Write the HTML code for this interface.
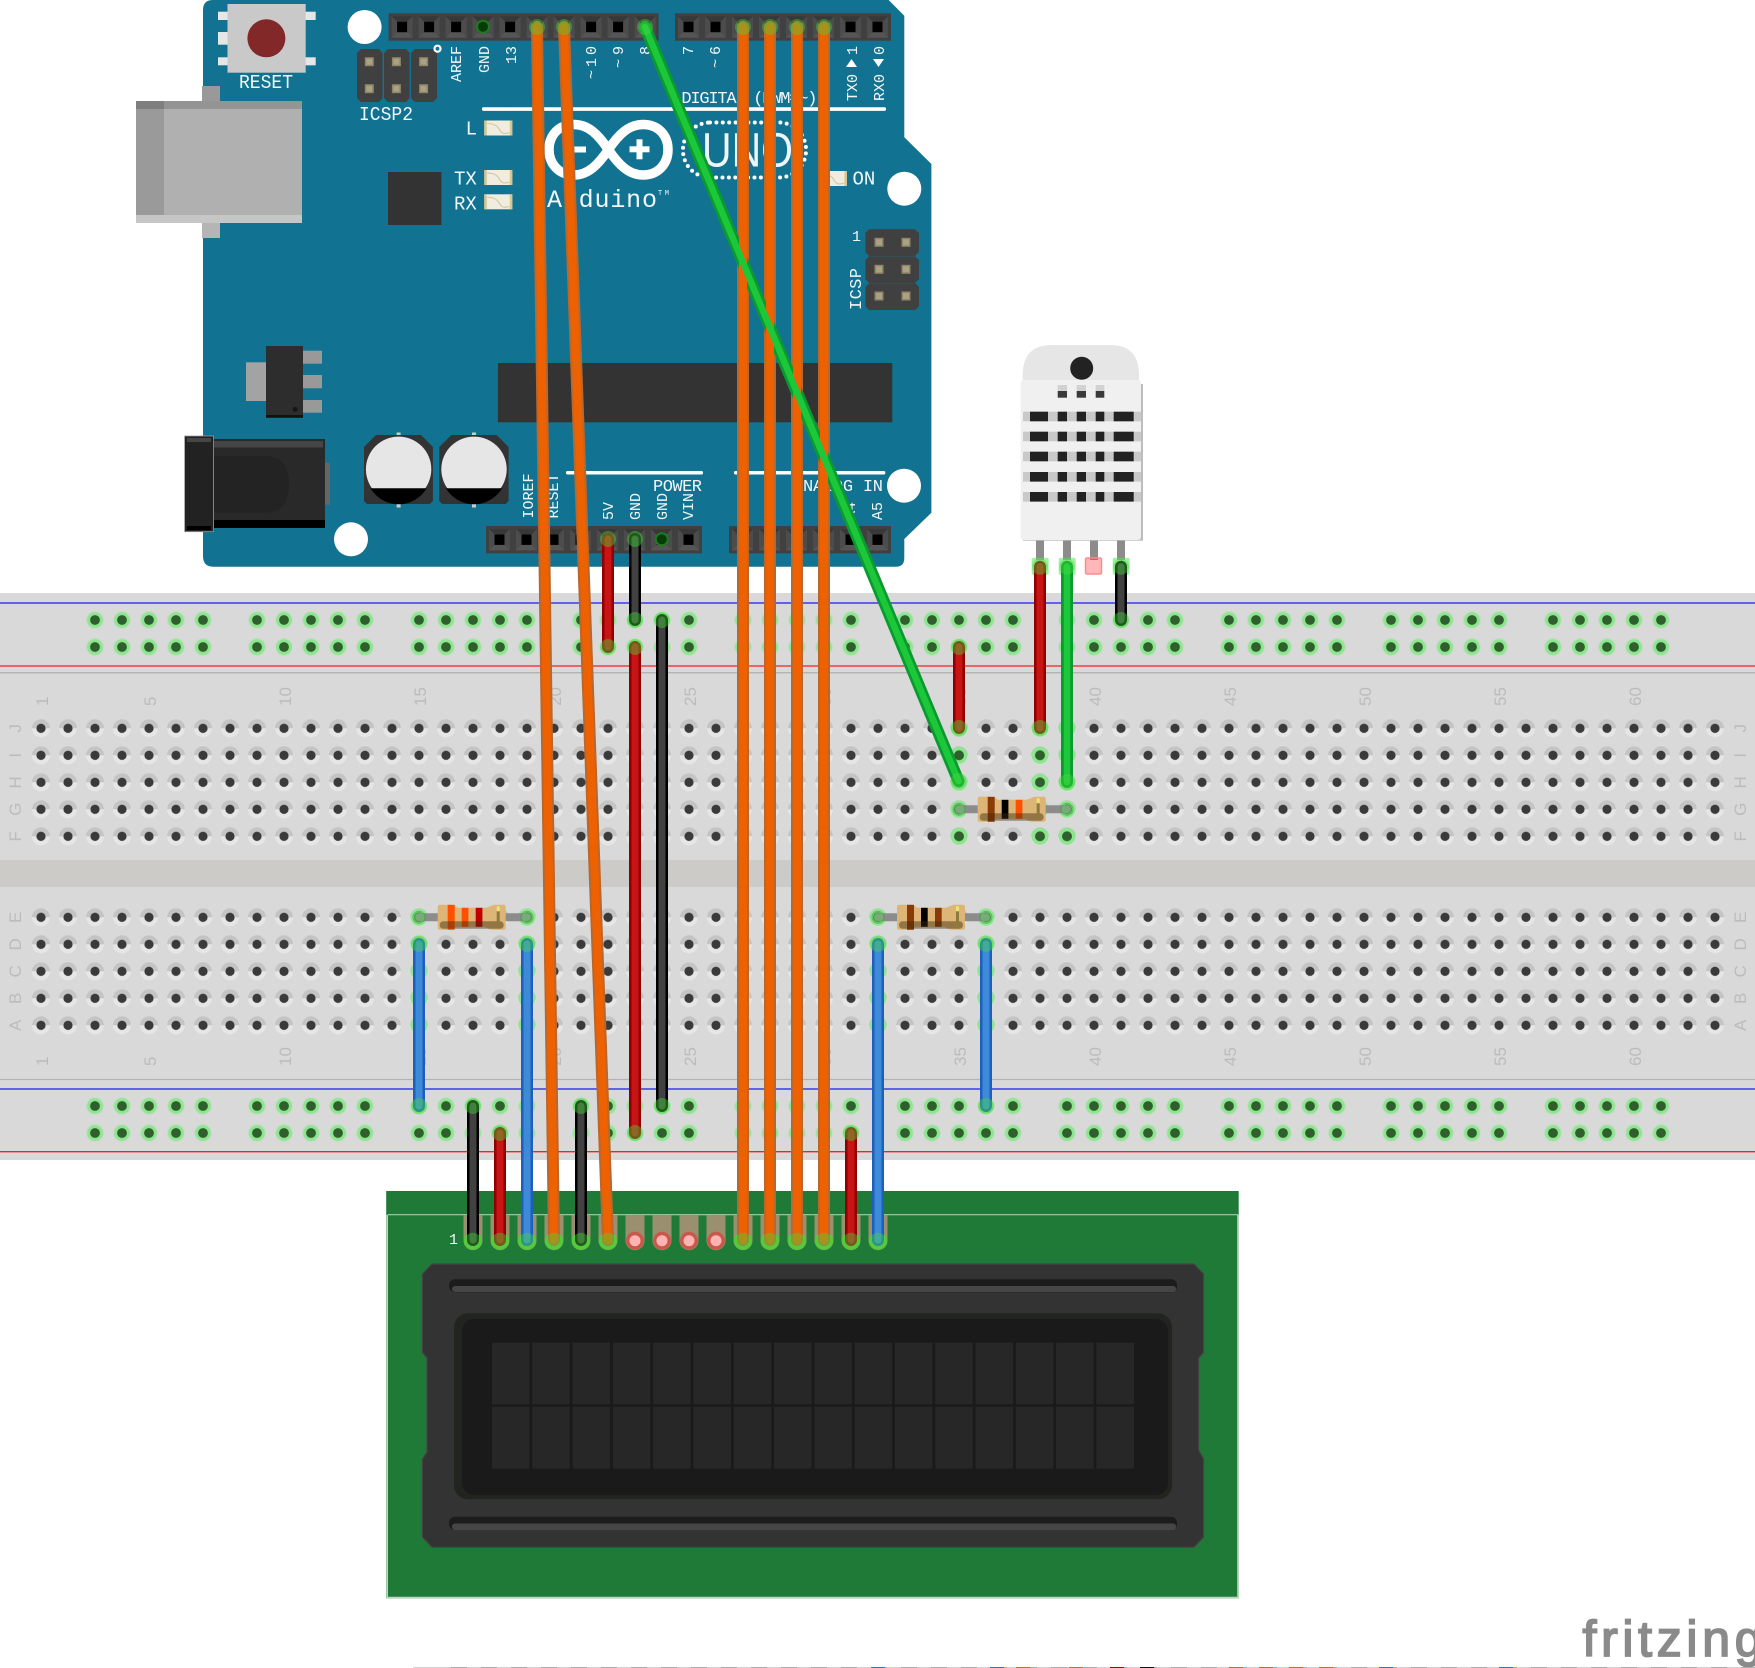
<!DOCTYPE html>
<html>
<head>
<meta charset="utf-8">
<title>Fritzing diagram</title>
<style>
html,body{margin:0;padding:0;background:#fff}
svg{display:block}
.m{font-family:"Liberation Mono",monospace;fill:#f2f7f9}
.s{font-size:15px}
.l{font-size:17px}
.b{font-size:19px}
.g{font-family:"Liberation Sans",sans-serif;font-size:17px;fill:#bcbcbc}
</style>
</head>
<body>
<svg xmlns="http://www.w3.org/2000/svg" width="1755" height="1668" viewBox="0 0 1755 1668">
<defs>
<pattern id="h" patternUnits="userSpaceOnUse" x="27.5" y="714.8" width="27" height="27">
<path d="M4.5 13.5A9 9 0 0 1 22.5 13.5Z" fill="#c4c4c4"/><path d="M4.5 13.5A9 9 0 0 0 22.5 13.5Z" fill="#e6e6e6"/><circle cx="13.5" cy="13.5" r="4.6" fill="#3a3a3a"/>
</pattern>
<pattern id="gp" patternUnits="userSpaceOnUse" x="27.5" y="714.8" width="27" height="27">
<circle cx="13.5" cy="13.5" r="8.6" fill="#8de68f"/><circle cx="13.5" cy="13.5" r="5" fill="#2f5f2c"/>
</pattern>
<pattern id="r" patternUnits="userSpaceOnUse" x="81.5" y="606.5" width="27" height="27">
<circle cx="13.5" cy="13.5" r="9" fill="#c4dcc4"/><circle cx="13.5" cy="13.5" r="7.8" fill="#8de68f"/><circle cx="13.5" cy="13.5" r="4.9" fill="#2f5f2c"/>
</pattern>
<pattern id="hd" patternUnits="userSpaceOnUse" x="0" y="0" width="27" height="27.4">
<rect width="27" height="27.4" fill="#404040"/>
<rect x="3" y="3" width="21" height="21.4" fill="#4c4c4c"/>
<polygon points="3,3 24,3 18.5,8.5 8.5,8.5" fill="#383838"/>
<polygon points="3,24.4 24,24.4 18.5,18.9 8.5,18.9" fill="#555"/>
<rect x="8.5" y="8.5" width="10" height="10.4" fill="#000"/>
</pattern>
<g id="pin"><rect x="-4.5" y="-4.5" width="9" height="9" fill="#8f8668"/><rect x="-3" y="-3" width="6" height="6" fill="#aaa282"/></g>
<g id="led"><rect width="28" height="15" fill="#f0ecdf"/><rect width="2.5" height="15" fill="#d5c78f"/><rect x="25.5" width="2.5" height="15" fill="#d5c78f"/><path d="M3 3Q12 3 15 9T25 12" stroke="#cfc59c" fill="none"/></g>
<g id="res">
<path d="M-32-12.5H-22Q-16-12.5-14-9.5H14Q16-9.5 22-12.5H32Q34-12.5 34-10V10Q34 12.5 32 12.5H22Q16 12.5 14 9.5H-14Q-16 9.5-22 12.5H-32Q-34 12.5-34 10V-10Q-34-12.5-32-12.5Z" fill="#dcb577"/>
</g>
<g id="resTop">
<rect x="-32" y="4" width="64" height="7.5" rx="3.5" fill="#3c2a0a" opacity=".45"/>
<rect x="25" y="-11" width="3" height="5" fill="#eee27a"/><rect x="25" y="-6" width="3" height="17" fill="#8d7a3c"/>
</g>
<path id="pad" d="M-9.5 1215V1240.7A9.5 9.5 0 0 0 9.5 1240.7V1215Z" fill="#9a9070"/>
</defs>

<!-- Arduino -->
<path d="M213 0H888.6L904.3 15.7V137.3L931.4 164V512.7L904.3 539V558Q904.3 566.7 896 566.7H213Q203 566.7 203 556V10Q203 0 213 0Z" fill="#117391"/>
<!-- USB -->
<rect x="202" y="86" width="18" height="15" fill="#999"/>
<rect x="202" y="222" width="18" height="16" fill="#b5b5b5"/>
<rect x="136" y="101" width="166" height="122" fill="#b0b0b0"/>
<rect x="136" y="101" width="28" height="122" fill="#9a9a9a"/>
<rect x="136" y="101" width="166" height="8" fill="#949494"/>
<rect x="136" y="101" width="28" height="8" fill="#7f7f7f"/>
<rect x="136" y="215" width="166" height="8" fill="#c6c6c6"/>
<!-- reset -->
<g fill="#e6e6e6"><rect x="218" y="11.7" width="10" height="8.3"/><rect x="218" y="32" width="10" height="12.7"/><rect x="218" y="57.3" width="10" height="8"/><rect x="305" y="11.7" width="10.7" height="8.3"/><rect x="305" y="57.3" width="10.7" height="8"/></g>
<rect x="227.5" y="4" width="78.2" height="68.7" fill="#c9c9c9"/>
<circle cx="266.4" cy="38.3" r="19" fill="#822828"/>
<text class="m b" x="266" y="88" text-anchor="middle" textLength="54" lengthAdjust="spacingAndGlyphs">RESET</text>
<circle cx="364.6" cy="27" r="17" fill="#fff"/>
<circle cx="904.3" cy="188.7" r="17" fill="#fff"/>
<circle cx="351" cy="539.3" r="17" fill="#fff"/>
<circle cx="904" cy="485.7" r="17" fill="#fff"/>
<!-- headers -->
<rect transform="translate(388.6 13.3)" width="270" height="27.4" fill="url(#hd)"/>
<rect transform="translate(675 13.3)" width="216" height="27.4" fill="url(#hd)"/>
<rect transform="translate(486 526)" width="216" height="27.4" fill="url(#hd)"/>
<rect transform="translate(729 526)" width="162" height="27.4" fill="url(#hd)"/>
<circle cx="483" cy="26.7" r="7" fill="#1f7a22"/><circle cx="483" cy="26.7" r="5" fill="#063d06"/>
<circle cx="661.8" cy="539.3" r="7" fill="#1f7a22"/><circle cx="661.8" cy="539.3" r="5" fill="#063d06"/>
<!-- ICSP2 -->
<g fill="#404040">
<path d="M361 49H379L382.6 53V98L379 102H361L357 98V53Z"/><path d="M388 49H406L409.6 53V98L406 102H388L384 98V53Z"/><path d="M415 49H433L437 53V98L433 102H415L411 98V53Z"/>
</g>
<use href="#pin" x="369.3" y="61.7"/><use href="#pin" x="396.4" y="61.7"/><use href="#pin" x="423.6" y="61.7"/>
<use href="#pin" x="369.3" y="88.7"/><use href="#pin" x="396.4" y="88.7"/><use href="#pin" x="423.6" y="88.7"/>
<circle cx="437.5" cy="48.7" r="3" fill="none" stroke="#fff" stroke-width="2.2"/>
<text class="m b" x="359" y="120" textLength="54" lengthAdjust="spacingAndGlyphs">ICSP2</text>
<!-- top rotated labels -->
<g class="m s" text-anchor="end">
<text transform="translate(461 46) rotate(-90)">AREF</text>
<text transform="translate(489 46) rotate(-90)">GND</text>
<text transform="translate(516 46) rotate(-90)">13</text>
<text transform="translate(543 46) rotate(-90)">12</text>
<text transform="translate(570 46) rotate(-90)" textLength="33">~11</text>
<text transform="translate(596 46) rotate(-90)" textLength="33">~10</text>
<text transform="translate(623 46) rotate(-90)" textLength="22">~9</text>
<text transform="translate(650 46) rotate(-90)">8</text>
<text transform="translate(693 46) rotate(-90)">7</text>
<text transform="translate(720 46) rotate(-90)" textLength="22">~6</text>
<text transform="translate(747 46) rotate(-90)" textLength="22">~5</text>
<text transform="translate(774 46) rotate(-90)">4</text>
<text transform="translate(801 46) rotate(-90)" textLength="22">~3</text>
<text transform="translate(828 46) rotate(-90)">2</text>
<text transform="translate(857 46) rotate(-90)">1</text>
<text transform="translate(884 46) rotate(-90)">0</text>
</g>
<g class="m s">
<text transform="translate(857 101) rotate(-90)">TX0</text>
<text transform="translate(884 101) rotate(-90)">RX0</text>
</g>
<polygon points="851.5,59 857,67 846,67" fill="#fff"/>
<polygon points="878.5,67 884,59 873,59" fill="#fff"/>
<rect x="482" y="107.3" width="404" height="3.6" rx="1.5" fill="#fff"/>
<text class="m l" x="681.4" y="103" textLength="136">DIGITAL (PWM=~)</text>
<!-- LEDs -->
<use href="#led" x="484.3" y="120.5"/><use href="#led" x="484.3" y="170"/><use href="#led" x="484.3" y="194.3"/><use href="#led" x="819" y="171"/>
<text class="m b" x="477" y="134.5" text-anchor="end">L</text>
<text class="m b" x="454" y="184.5">TX</text>
<text class="m b" x="454" y="209.5">RX</text>
<text class="m b" x="852.5" y="184.5">ON</text>
<rect x="388" y="172" width="53.4" height="53" fill="#333"/>
<!-- logo -->
<path d="M608.4 149.6C598 134 588 124.5 574 124.5C558 124.5 549 136 549 149.6C549 163 558 175 574 175C588 175 598 165 608.4 149.6C618.8 134 629 124.5 643 124.5C659 124.5 668 136 668 149.6C668 163 659 175 643 175C629 175 618.8 165 608.4 149.6Z" fill="none" stroke="#fff" stroke-width="9.5"/>
<rect x="573.6" y="146.5" width="12.4" height="6" fill="#fff"/>
<rect x="629.5" y="146.3" width="20" height="6" fill="#fff"/><rect x="636.5" y="139.3" width="6" height="20" fill="#fff"/>
<text class="m" x="547" y="207" font-size="25" textLength="110">Arduino</text>
<text class="m" x="658" y="195" font-size="7" textLength="11">TM</text>
<rect x="683" y="122.5" width="123" height="55" rx="27" fill="none" stroke="#fff" stroke-width="4" stroke-linecap="round" stroke-dasharray="0 6.4"/>
<text x="702" y="166.5" font-family="Liberation Sans,sans-serif" font-size="48" fill="#eef5f7" textLength="91" lengthAdjust="spacingAndGlyphs">UNO</text>
<!-- ICSP -->
<g fill="#404040">
<path d="M869 229.3H915L919 233V252L915 256H869L865.4 252V233Z"/>
<path d="M869 256.3H915L919 260V279L915 283H869L865.4 279V260Z"/>
<path d="M869 283.3H915L919 287V306L915 310H869L865.4 306V287Z"/>
</g>
<use href="#pin" x="879" y="242.3"/><use href="#pin" x="906" y="242.3"/><use href="#pin" x="879" y="269.3"/><use href="#pin" x="906" y="269.3"/><use href="#pin" x="879" y="296"/><use href="#pin" x="906" y="296"/>
<text class="m s" x="852" y="241">1</text>
<text class="m l" transform="translate(861 310) rotate(-90)" textLength="42">ICSP</text>
<!-- regulator -->
<rect x="246" y="362.3" width="20" height="38.7" fill="#a3a3a3"/>
<g fill="#999"><rect x="302" y="350.7" width="20" height="13"/><rect x="302" y="375" width="20" height="13.3"/><rect x="302" y="400" width="20" height="12.7"/></g>
<rect x="266" y="346" width="37" height="71.7" fill="#2d2d2d"/><rect x="266" y="415" width="37" height="2.7" fill="#111"/>
<circle cx="295" cy="409.3" r="2.6" fill="#161616"/>
<rect x="497.9" y="363" width="394.4" height="59.3" fill="#333"/>
<!-- jack -->
<rect x="325" y="462.7" width="5" height="42" fill="#666"/>
<rect x="213" y="439" width="112" height="89" fill="#292929"/>
<rect x="213" y="441" width="110" height="6.5" fill="#454545"/>
<rect x="213" y="520" width="112" height="8" fill="#000"/>
<path d="M213 456H265Q289 456 289 484Q289 512.7 265 512.7H213Z" fill="#232323"/>
<rect x="184.6" y="436" width="29" height="95.7" fill="#222" stroke="#9a9a9a" stroke-width=".8"/>
<rect x="187" y="438" width="24" height="4" fill="#464646"/><rect x="187" y="526" width="24" height="4" fill="#000"/>
<!-- caps -->
<g id="cap1">
<rect x="396.6" y="432.5" width="4" height="75" fill="#ccc"/>
<path d="M376 435H421L432.9 447V501L430 504H367L364 501V447Z" fill="#333"/>
<circle cx="398.6" cy="469.3" r="32.7" fill="#e6e6e6"/>
<path d="M370.5 488.3H426.7A32.7 32.7 0 0 1 370.5 488.3Z" fill="#000"/>
</g>
<rect x="472" y="432.5" width="4" height="75" fill="#ccc"/>
<path d="M451.4 435H496.7L508.6 447V501L505.6 504H442.3L439.3 501V447Z" fill="#333"/>
<circle cx="474" cy="469.3" r="32.7" fill="#e6e6e6"/>
<path d="M445.9 488.3H502.1A32.7 32.7 0 0 1 445.9 488.3Z" fill="#000"/>
<!-- bottom labels -->
<rect x="566" y="471" width="137" height="3.5" rx="1.5" fill="#fff"/>
<rect x="734" y="471" width="151.3" height="3.5" rx="1.5" fill="#fff"/>
<text class="m l" x="653" y="491" textLength="49">POWER</text>
<text class="m l" x="793" y="491" textLength="90">ANALOG IN</text>
<g class="m s">
<text transform="translate(533 518.5) rotate(-90)">IOREF</text>
<text transform="translate(558 518.5) rotate(-90)">RESET</text>
<text transform="translate(613 520) rotate(-90)">5V</text>
<text transform="translate(640 520) rotate(-90)">GND</text>
<text transform="translate(667 520) rotate(-90)">GND</text>
<text transform="translate(693 520) rotate(-90)">VIN</text>
<text transform="translate(855 520) rotate(-90)">A4</text>
<text transform="translate(882 520) rotate(-90)">A5</text>
</g>

<!-- DHT -->
<g fill="#8c8c8c"><rect x="1036" y="540" width="8" height="20"/><rect x="1063" y="540" width="8" height="20"/><rect x="1090" y="540" width="8" height="20"/><rect x="1117" y="540" width="8" height="20"/></g>
<rect x="1023" y="384" width="120" height="156.7" fill="#bdbdbd"/>
<path d="M1022.7 382V375Q1022.7 345 1052 345H1110Q1139 345 1139 375V382Z" fill="#e6e6e6"/>
<circle cx="1081.7" cy="368.3" r="11.5" fill="#222"/>
<rect x="1020.7" y="380" width="120.3" height="160" rx="3" fill="#f0f0f0"/>
<g fill="#c9c9c9">
<rect x="1023" y="411.7" width="118" height="9.6"/><rect x="1023" y="431.7" width="118" height="9.6"/><rect x="1023" y="451.7" width="118" height="9.6"/><rect x="1023" y="472" width="118" height="9.6"/><rect x="1023" y="492" width="118" height="9.6"/>
</g>
<g fill="#222">
<rect x="1030" y="411.7" width="18" height="9.6"/><rect x="1057.7" y="411.7" width="9.3" height="9.6"/><rect x="1076.7" y="411.7" width="9.3" height="9.6"/><rect x="1095.7" y="411.7" width="8.6" height="9.6"/><rect x="1113.7" y="411.7" width="20" height="9.6"/>
<rect x="1030" y="431.7" width="18" height="9.6"/><rect x="1057.7" y="431.7" width="9.3" height="9.6"/><rect x="1076.7" y="431.7" width="9.3" height="9.6"/><rect x="1095.7" y="431.7" width="8.6" height="9.6"/><rect x="1113.7" y="431.7" width="20" height="9.6"/>
<rect x="1030" y="451.7" width="18" height="9.6"/><rect x="1057.7" y="451.7" width="9.3" height="9.6"/><rect x="1076.7" y="451.7" width="9.3" height="9.6"/><rect x="1095.7" y="451.7" width="8.6" height="9.6"/><rect x="1113.7" y="451.7" width="20" height="9.6"/>
<rect x="1030" y="472" width="18" height="9.6"/><rect x="1057.7" y="472" width="9.3" height="9.6"/><rect x="1076.7" y="472" width="9.3" height="9.6"/><rect x="1095.7" y="472" width="8.6" height="9.6"/><rect x="1113.7" y="472" width="20" height="9.6"/>
<rect x="1030" y="492" width="18" height="9.6"/><rect x="1057.7" y="492" width="9.3" height="9.6"/><rect x="1076.7" y="492" width="9.3" height="9.6"/><rect x="1095.7" y="492" width="8.6" height="9.6"/><rect x="1113.7" y="492" width="20" height="9.6"/>
</g>
<g fill="#d2d2d2"><rect x="1057.7" y="385" width="9.3" height="6"/><rect x="1076.7" y="385" width="9.3" height="6"/><rect x="1095.7" y="385" width="8.6" height="6"/></g>
<g fill="#3a3a3a"><rect x="1057.7" y="391" width="9.3" height="6.7"/><rect x="1076.7" y="391" width="9.3" height="6.7"/><rect x="1095.7" y="391" width="8.6" height="6.7"/></g>
<g fill="#57e557" opacity=".55"><rect x="1031.7" y="557.7" width="17" height="17" rx="2"/><rect x="1058.7" y="557.7" width="17" height="17" rx="2"/><rect x="1112.7" y="557.7" width="17" height="17" rx="2"/></g>
<rect x="1085.5" y="558" width="16" height="16" rx="1.5" fill="#ff3030" fill-opacity=".35" stroke="#ff8a8a" stroke-width="1.5"/>

<!-- Breadboard -->
<rect x="0" y="593" width="1755" height="567" fill="#d9d9d9"/>
<rect x="0" y="860" width="1755" height="27" fill="#cdcbc8"/>
<g fill="none" stroke-width="1.3">
<path d="M0 603H1755" stroke="#1c1cf0"/><path d="M0 666H1755" stroke="#f52020"/><path d="M0 672.7H1755" stroke="#b3b3b3"/>
<path d="M0 1079.5H1755" stroke="#b3b3b3"/><path d="M0 1089H1755" stroke="#1c1cf0"/><path d="M0 1151.7H1755" stroke="#f52020"/>
</g>
<rect x="27.5" y="714.8" width="1701" height="135" fill="url(#h)"/>
<rect x="27.5" y="903.8" width="1701" height="135" fill="url(#h)"/>
<g fill="url(#gp)">
<rect x="945.5" y="714.8" width="27" height="135"/><rect x="1026.5" y="714.8" width="27" height="135"/><rect x="1053.5" y="714.8" width="27" height="135"/>
<rect x="405.5" y="903.8" width="27" height="135"/><rect x="513.5" y="903.8" width="27" height="135"/><rect x="864.5" y="903.8" width="27" height="135"/><rect x="972.5" y="903.8" width="27" height="135"/>
</g>
<g fill="url(#r)">
<rect x="81.5" y="606.5" width="135" height="54"/><rect x="243.5" y="606.5" width="135" height="54"/><rect x="405.5" y="606.5" width="135" height="54"/><rect x="567.5" y="606.5" width="135" height="54"/><rect x="729.5" y="606.5" width="135" height="54"/><rect x="891.5" y="606.5" width="135" height="54"/><rect x="1053.5" y="606.5" width="135" height="54"/><rect x="1215.5" y="606.5" width="135" height="54"/><rect x="1377.5" y="606.5" width="135" height="54"/><rect x="1539.5" y="606.5" width="135" height="54"/>
<rect x="81.5" y="1092.5" width="135" height="54"/><rect x="243.5" y="1092.5" width="135" height="54"/><rect x="405.5" y="1092.5" width="135" height="54"/><rect x="567.5" y="1092.5" width="135" height="54"/><rect x="729.5" y="1092.5" width="135" height="54"/><rect x="891.5" y="1092.5" width="135" height="54"/><rect x="1053.5" y="1092.5" width="135" height="54"/><rect x="1215.5" y="1092.5" width="135" height="54"/><rect x="1377.5" y="1092.5" width="135" height="54"/><rect x="1539.5" y="1092.5" width="135" height="54"/>
</g>
<!-- breadboard labels -->
<g class="g">
<text transform="translate(48 706) rotate(-90)">1</text><text transform="translate(156 706) rotate(-90)">5</text><text transform="translate(291 706) rotate(-90)">10</text><text transform="translate(426 706) rotate(-90)">15</text><text transform="translate(561 706) rotate(-90)">20</text><text transform="translate(696 706) rotate(-90)">25</text><text transform="translate(831 706) rotate(-90)">30</text><text transform="translate(966 706) rotate(-90)">35</text><text transform="translate(1101 706) rotate(-90)">40</text><text transform="translate(1236 706) rotate(-90)">45</text><text transform="translate(1371 706) rotate(-90)">50</text><text transform="translate(1506 706) rotate(-90)">55</text><text transform="translate(1641 706) rotate(-90)">60</text>
<text transform="translate(48 1066) rotate(-90)">1</text><text transform="translate(156 1066) rotate(-90)">5</text><text transform="translate(291 1066) rotate(-90)">10</text><text transform="translate(426 1066) rotate(-90)">15</text><text transform="translate(561 1066) rotate(-90)">20</text><text transform="translate(696 1066) rotate(-90)">25</text><text transform="translate(831 1066) rotate(-90)">30</text><text transform="translate(966 1066) rotate(-90)">35</text><text transform="translate(1101 1066) rotate(-90)">40</text><text transform="translate(1236 1066) rotate(-90)">45</text><text transform="translate(1371 1066) rotate(-90)">50</text><text transform="translate(1506 1066) rotate(-90)">55</text><text transform="translate(1641 1066) rotate(-90)">60</text>
</g>
<g class="g" text-anchor="middle">
<text transform="translate(21 728.3) rotate(-90)">J</text><text transform="translate(21 755.3) rotate(-90)">I</text><text transform="translate(21 782.3) rotate(-90)">H</text><text transform="translate(21 809.3) rotate(-90)">G</text><text transform="translate(21 836.3) rotate(-90)">F</text>
<text transform="translate(21 917.3) rotate(-90)">E</text><text transform="translate(21 944.3) rotate(-90)">D</text><text transform="translate(21 971.3) rotate(-90)">C</text><text transform="translate(21 998.3) rotate(-90)">B</text><text transform="translate(21 1025.3) rotate(-90)">A</text>
<text transform="translate(1746 728.3) rotate(-90)">J</text><text transform="translate(1746 755.3) rotate(-90)">I</text><text transform="translate(1746 782.3) rotate(-90)">H</text><text transform="translate(1746 809.3) rotate(-90)">G</text><text transform="translate(1746 836.3) rotate(-90)">F</text>
<text transform="translate(1746 917.3) rotate(-90)">E</text><text transform="translate(1746 944.3) rotate(-90)">D</text><text transform="translate(1746 971.3) rotate(-90)">C</text><text transform="translate(1746 998.3) rotate(-90)">B</text><text transform="translate(1746 1025.3) rotate(-90)">A</text>
</g>

<!-- Resistors -->
<g stroke="#8c8c8c" stroke-width="8" stroke-linecap="round">
<path d="M419 917.3H527"/><path d="M878 917.3H986"/><path d="M959 809.3H1067"/>
</g>
<g fill="#5fd05f" fill-opacity=".45" stroke="#2f8f2f" stroke-opacity=".5">
<circle cx="419" cy="917.3" r="6"/><circle cx="527" cy="917.3" r="6"/><circle cx="878" cy="917.3" r="6"/><circle cx="986" cy="917.3" r="6"/><circle cx="959" cy="809.3" r="6"/><circle cx="1067" cy="809.3" r="6"/>
</g>
<g transform="translate(471.7 917.3)"><use href="#res"/>
<rect x="-24" y="-12.5" width="7" height="25" fill="#ff5000"/><rect x="-10" y="-9.5" width="6.7" height="19" fill="#ff5000"/><rect x="4" y="-9.5" width="6.7" height="19" fill="#c00000"/><use href="#resTop"/></g>
<g transform="translate(931 917.3)"><use href="#res"/>
<rect x="-24" y="-12.5" width="7" height="25" fill="#8a3a06"/><rect x="-10" y="-9.5" width="6.7" height="19" fill="#000"/><rect x="4" y="-9.5" width="6.7" height="19" fill="#8a3a06"/><use href="#resTop"/></g>
<g transform="translate(1011.7 809.3)"><use href="#res"/>
<rect x="-24" y="-12.5" width="7" height="25" fill="#8a3a06"/><rect x="-10" y="-9.5" width="6.7" height="19" fill="#000"/><rect x="4" y="-9.5" width="6.7" height="19" fill="#ff5000"/><use href="#resTop"/></g>

<!-- LCD -->
<rect x="386.2" y="1191" width="852.5" height="407.3" fill="#1f7a37"/>
<path d="M387.2 1214.7V1597.5H1238V1214.7" fill="none" stroke="#bcd6c0" stroke-width="1.6"/>
<path d="M388 1214.7H1238" stroke="#a9cbb0" stroke-width="1.2"/>
<g>
<use href="#pad" x="473"/><use href="#pad" x="500"/><use href="#pad" x="527"/><use href="#pad" x="554"/><use href="#pad" x="581"/><use href="#pad" x="608"/><use href="#pad" x="635"/><use href="#pad" x="662"/><use href="#pad" x="689"/><use href="#pad" x="716"/><use href="#pad" x="743"/><use href="#pad" x="770"/><use href="#pad" x="797"/><use href="#pad" x="824"/><use href="#pad" x="851"/><use href="#pad" x="878"/>
</g>
<g fill="none" stroke="#58c63a" stroke-width="3.4">
<circle cx="473" cy="1240.7" r="7.5"/><circle cx="500" cy="1240.7" r="7.5"/><circle cx="527" cy="1240.7" r="7.5"/><circle cx="554" cy="1240.7" r="7.5"/><circle cx="581" cy="1240.7" r="7.5"/><circle cx="608" cy="1240.7" r="7.5"/><circle cx="743" cy="1240.7" r="7.5"/><circle cx="770" cy="1240.7" r="7.5"/><circle cx="797" cy="1240.7" r="7.5"/><circle cx="824" cy="1240.7" r="7.5"/><circle cx="851" cy="1240.7" r="7.5"/><circle cx="878" cy="1240.7" r="7.5"/>
</g>
<g fill="#ffb3b3" stroke="#c8584a" stroke-width="3.4">
<circle cx="635" cy="1240.7" r="7.2"/><circle cx="662" cy="1240.7" r="7.2"/><circle cx="689" cy="1240.7" r="7.2"/><circle cx="716" cy="1240.7" r="7.2"/>
</g>
<text class="m s" x="449" y="1244" fill="#fff">1</text>
<path d="M432 1264H1194L1203.6 1274V1352.7L1198.6 1358V1450L1203.6 1459V1537L1194 1547.3H432L422.4 1537V1459L427 1452V1358L422.4 1352.7V1274Z" fill="#333" stroke="#454545" stroke-width="1.2"/>
<rect x="449" y="1279.3" width="728" height="13" rx="6" fill="#1c1c1c"/>
<rect x="452" y="1286" width="724" height="6" rx="3" fill="#464646"/>
<rect x="449" y="1516.7" width="728" height="13.3" rx="6" fill="#1c1c1c"/>
<rect x="452" y="1523.5" width="724" height="6.5" rx="3" fill="#464646"/>
<rect x="454" y="1313.3" width="718" height="186" rx="14" fill="#22251f"/>
<rect x="462" y="1319" width="706" height="176" rx="12" fill="#1a1a1a"/>
<g fill="#272727">
<rect x="491.9" y="1342.7" width="37.6" height="61.6"/><rect x="532.2" y="1342.7" width="37.6" height="61.6"/><rect x="572.5" y="1342.7" width="37.6" height="61.6"/><rect x="612.8" y="1342.7" width="37.6" height="61.6"/><rect x="653.1" y="1342.7" width="37.6" height="61.6"/><rect x="693.4" y="1342.7" width="37.6" height="61.6"/><rect x="733.7" y="1342.7" width="37.6" height="61.6"/><rect x="774" y="1342.7" width="37.6" height="61.6"/><rect x="814.3" y="1342.7" width="37.6" height="61.6"/><rect x="854.6" y="1342.7" width="37.6" height="61.6"/><rect x="894.9" y="1342.7" width="37.6" height="61.6"/><rect x="935.2" y="1342.7" width="37.6" height="61.6"/><rect x="975.5" y="1342.7" width="37.6" height="61.6"/><rect x="1015.8" y="1342.7" width="37.6" height="61.6"/><rect x="1056.1" y="1342.7" width="37.6" height="61.6"/><rect x="1096.4" y="1342.7" width="37.6" height="61.6"/>
<rect x="491.9" y="1406.7" width="37.6" height="62"/><rect x="532.2" y="1406.7" width="37.6" height="62"/><rect x="572.5" y="1406.7" width="37.6" height="62"/><rect x="612.8" y="1406.7" width="37.6" height="62"/><rect x="653.1" y="1406.7" width="37.6" height="62"/><rect x="693.4" y="1406.7" width="37.6" height="62"/><rect x="733.7" y="1406.7" width="37.6" height="62"/><rect x="774" y="1406.7" width="37.6" height="62"/><rect x="814.3" y="1406.7" width="37.6" height="62"/><rect x="854.6" y="1406.7" width="37.6" height="62"/><rect x="894.9" y="1406.7" width="37.6" height="62"/><rect x="935.2" y="1406.7" width="37.6" height="62"/><rect x="975.5" y="1406.7" width="37.6" height="62"/><rect x="1015.8" y="1406.7" width="37.6" height="62"/><rect x="1056.1" y="1406.7" width="37.6" height="62"/><rect x="1096.4" y="1406.7" width="37.6" height="62"/>
</g>

<!-- Wires: outer -->
<g fill="none" stroke-linecap="round" stroke-width="12">
<g stroke="#b8672f">
<path d="M537 27L554 1240"/><path d="M564 27L608 1240"/><path d="M743 27V1240"/><path d="M770 27V1240"/><path d="M797 27V1240"/><path d="M824 27V1240"/>
</g>
<g stroke="#8f0000">
<path d="M608 539V647"/><path d="M635 647V1133"/><path d="M959 647V728"/><path d="M1040 566.7V728"/><path d="M500 1133V1240"/><path d="M851 1133V1240"/>
</g>
<g stroke="#000">
<path d="M635 539V620"/><path d="M662 620V1106"/><path d="M1121 566.7V620"/><path d="M473 1106V1240"/><path d="M581 1106V1240"/>
</g>
<g stroke="#1f5fbc">
<path d="M419 944V1106"/><path d="M527 944V1240"/><path d="M878 944V1240"/><path d="M986 944V1106"/>
</g>
<g stroke="#0a9a30">
<path d="M645 27L958.5 781"/><path d="M1067 566.7V782"/>
</g>
</g>
<!-- Wires: inner -->
<g fill="none" stroke-linecap="round">
<g stroke="#ee6100" stroke-width="8">
<path d="M537 27L554 1240"/><path d="M564 27L608 1240"/><path d="M743 27V1240"/><path d="M770 27V1240"/><path d="M797 27V1240"/><path d="M824 27V1240"/>
</g>
<g stroke="#c81414" stroke-width="7">
<path d="M608 539V647"/><path d="M635 647V1133"/><path d="M959 647V728"/><path d="M1040 566.7V728"/><path d="M500 1133V1240"/><path d="M851 1133V1240"/>
</g>
<g stroke="#414141" stroke-width="7">
<path d="M635 539V620"/><path d="M662 620V1106"/><path d="M1121 566.7V620"/><path d="M473 1106V1240"/><path d="M581 1106V1240"/>
</g>
<g stroke="#3d8ad8" stroke-width="7">
<path d="M419 944V1106"/><path d="M527 944V1240"/><path d="M878 944V1240"/><path d="M986 944V1106"/>
</g>
<g stroke="#1cc83a" stroke-width="6.5">
<path d="M645 27L958.5 781"/><path d="M1067 566.7V782"/>
</g>
</g>
<!-- connection overlays -->
<g fill="#44d83c" fill-opacity=".42">
<circle cx="537" cy="27" r="8"/><circle cx="564" cy="27" r="8"/><circle cx="743" cy="27" r="8"/><circle cx="770" cy="27" r="8"/><circle cx="797" cy="27" r="8"/><circle cx="824" cy="27" r="8"/>
<circle cx="645" cy="27" r="8"/><circle cx="958.5" cy="781" r="8"/>
<circle cx="608" cy="539" r="8"/><circle cx="635" cy="539" r="8"/>
<circle cx="608" cy="647" r="8"/><circle cx="635" cy="647" r="8"/><circle cx="635" cy="620" r="8"/><circle cx="662" cy="620" r="8"/>
<circle cx="635" cy="1133" r="8"/><circle cx="662" cy="1106" r="8"/>
<circle cx="959" cy="647" r="8"/><circle cx="959" cy="728" r="8"/><circle cx="1040" cy="566.7" r="8"/><circle cx="1040" cy="728" r="8"/>
<circle cx="1067" cy="566.7" r="8"/><circle cx="1067" cy="782" r="8"/><circle cx="1121" cy="566.7" r="8"/><circle cx="1121" cy="620" r="8"/>
<circle cx="419" cy="944" r="8"/><circle cx="419" cy="1106" r="8"/><circle cx="527" cy="944" r="8"/><circle cx="878" cy="944" r="8"/><circle cx="986" cy="944" r="8"/><circle cx="986" cy="1106" r="8"/>
<circle cx="473" cy="1106" r="8"/><circle cx="500" cy="1133" r="8"/><circle cx="581" cy="1106" r="8"/><circle cx="851" cy="1133" r="8"/>
<circle cx="473" cy="1240.7" r="8"/><circle cx="500" cy="1240.7" r="8"/><circle cx="527" cy="1240.7" r="8"/><circle cx="554" cy="1240.7" r="8"/><circle cx="581" cy="1240.7" r="8"/><circle cx="608" cy="1240.7" r="8"/><circle cx="743" cy="1240.7" r="8"/><circle cx="770" cy="1240.7" r="8"/><circle cx="797" cy="1240.7" r="8"/><circle cx="824" cy="1240.7" r="8"/><circle cx="851" cy="1240.7" r="8"/><circle cx="878" cy="1240.7" r="8"/>
</g>

<!-- fritzing logo -->
<text x="1582.5" y="1656" font-family="Liberation Sans,sans-serif" font-size="50" fill="#8a8a8a" stroke="#8a8a8a" stroke-width="1.8" textLength="180">fritzing</text>

<!-- bottom strip -->
<rect x="413" y="1667" width="1342" height="1" fill="#d2d2d2"/>
<path d="M451 1667.5H1755" stroke="#ababab" stroke-width="1" stroke-dasharray="16 14"/>
<g>
<rect x="871" y="1667" width="14" height="1" fill="#2f74cc"/><rect x="990" y="1667" width="14" height="1" fill="#2f74cc"/>
<rect x="1016" y="1667" width="14" height="1" fill="#c96a25"/><rect x="1069" y="1667" width="14" height="1" fill="#c96a25"/>
<rect x="1110" y="1667" width="14" height="1" fill="#a00"/><rect x="1140" y="1667" width="14" height="1" fill="#111"/>
<rect x="1229" y="1667" width="14" height="1" fill="#c96a25"/><rect x="1259" y="1667" width="14" height="1" fill="#c96a25"/><rect x="1289" y="1667" width="14" height="1" fill="#c96a25"/><rect x="1319" y="1667" width="14" height="1" fill="#c96a25"/>
<rect x="1379" y="1667" width="14" height="1" fill="#2f74cc"/><rect x="1499" y="1667" width="14" height="1" fill="#2f74cc"/>
</g>
</svg>
</body>
</html>
